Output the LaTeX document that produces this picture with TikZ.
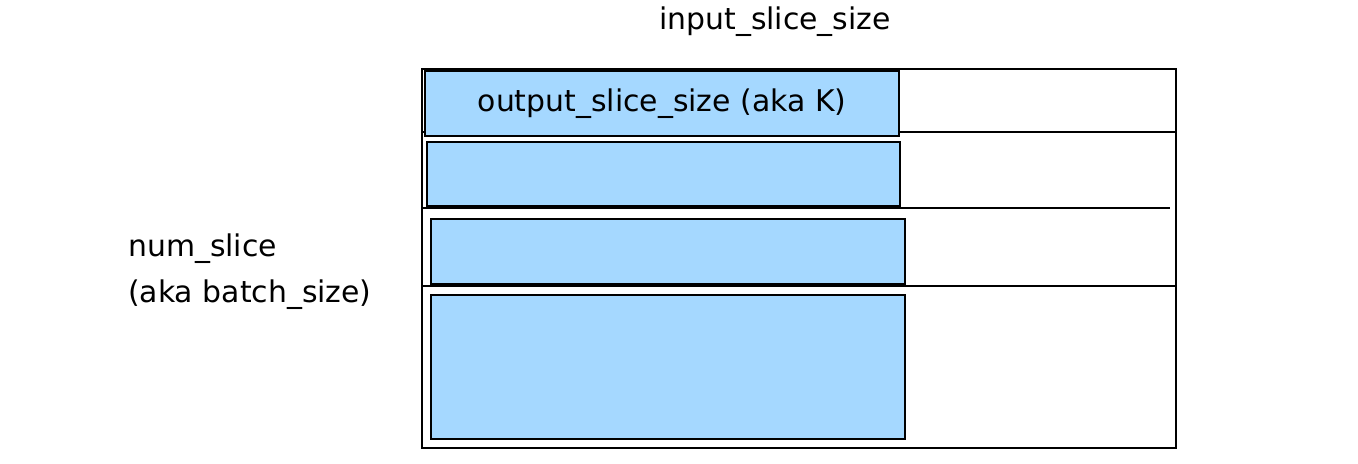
\documentclass[tikz,border=0pt]{standalone}
\usepackage{fontspec}
\setmainfont{DejaVu Sans}
\definecolor{sliceblue}{HTML}{A5D8FF}
\begin{document}
\begin{tikzpicture}[x=0.02cm,y=-0.02cm,
    slice/.style={draw,line width=1.2pt,fill=sliceblue,anchor=north west,inner sep=0pt},
    label/.style={font=\fontsize{17}{26}\selectfont}]

    \useasboundingbox (0,0) rectangle (1358,463);

    % outer matrix and row separators
    \node[draw,line width=1.2pt,anchor=north west,minimum width=15.08cm,minimum height=7.58cm,inner sep=0pt] (Matrix) at (421,68) {};
    \draw[line width=1pt] (421,132) -- (1175,132);
    \draw[line width=1pt] (421,208) -- (1170,208);
    \draw[line width=1pt] (421,286) -- (1175,286);

    % slices
    \node[slice,minimum width=9.48cm,minimum height=1.30cm] (SliceA) at (424,70) {};
    \node[slice,minimum width=9.46cm,minimum height=1.28cm] (SliceB) at (426,141) {};
    \node[slice,minimum width=9.48cm,minimum height=1.30cm] (SliceC) at (430,218) {};
    \node[slice,minimum width=9.48cm,minimum height=2.88cm] (SliceD) at (430,294) {};

    \node[label] (OutSize) at (SliceA.center) {output\_slice\_size (aka K)};
    \node[label] (InSize) at (775,22) {input\_slice\_size};
    \node[label,align=left,anchor=west] (NumSlice) at (122,272) {num\_slice\\(aka batch\_size)};

\end{tikzpicture}
\end{document}
